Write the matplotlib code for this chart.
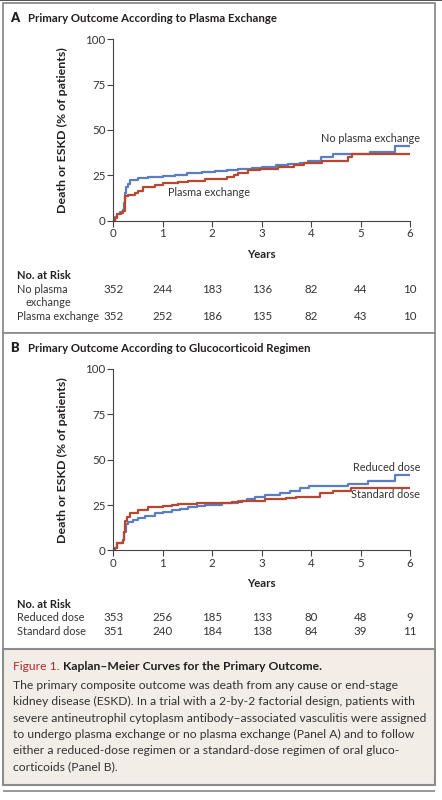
import matplotlib
matplotlib.use("Agg")
import matplotlib.pyplot as plt
import matplotlib.transforms as mtransforms
from matplotlib.patches import Rectangle

plt.rcParams['font.family'] = ['Lato', 'DejaVu Sans']

# ---- data ----
years = [0, 1, 2, 3, 4, 5, 6]
yticks = [0, 25, 50, 75, 100]

# panel A: no plasma exchange (blue), plasma exchange (red)
a_blue_t = [0, 0.03, 0.08, 0.14, 0.2, 0.22, 0.24, 0.26, 0.3, 0.34, 0.5, 0.7, 1.0, 1.25, 1.5,
            1.8, 2.06, 2.3, 2.53, 2.8, 3.0, 3.3, 3.54, 3.78, 3.94, 4.21, 4.44, 5.19, 5.70, 6.0]
a_blue_v = [0, 2, 3.7, 4.6, 5.9, 10, 15, 18.7, 20.5, 22.4, 23.4, 24, 24.6, 25.3, 26.1,
            26.8, 27.4, 28, 28.7, 29.3, 29.8, 30.9, 31.4, 32, 33, 35, 36.5, 37.8, 41.2, 41.2]
a_red_t = [0, 0.03, 0.08, 0.15, 0.2, 0.24, 0.3, 0.43, 0.5, 0.6, 0.84, 1.01, 1.3, 1.52, 1.86,
           2.3, 2.45, 2.53, 2.73, 2.97, 3.34, 3.65, 3.85, 4.22, 4.75, 4.83, 6.0]
a_red_v = [0, 1.5, 3.5, 4.5, 5.5, 13.6, 14.3, 15.1, 16.5, 18.7, 19.7, 20.6, 21.3, 22.1, 23.0,
           23.9, 25.0, 26.5, 27.9, 28.3, 29.6, 30.5, 31.6, 32.7, 35.3, 36.6, 36.6]

# panel B: reduced dose (blue), standard dose (red)
b_blue_t = [0, 0.03, 0.08, 0.2, 0.22, 0.26, 0.3, 0.4, 0.5, 0.65, 0.84, 1.0, 1.18, 1.35, 1.52,
            1.7, 1.86, 2.2, 2.53, 2.7, 2.87, 3.07, 3.37, 3.57, 3.78, 3.95, 4.75, 5.15, 5.70, 6.0]
b_blue_v = [0, 1.5, 3.9, 5.7, 10, 14.5, 15.8, 16.8, 17.6, 19.0, 20.4, 21.3, 22.2, 22.9, 23.7,
            24.4, 25, 25.9, 27.4, 28.3, 29.2, 30.5, 31.7, 32.5, 34.4, 35.3, 36.5, 38.0, 41.8, 41.8]
b_red_t = [0, 0.03, 0.08, 0.2, 0.22, 0.24, 0.28, 0.34, 0.5, 0.7, 1.0, 1.18, 1.3, 1.7, 2.2,
           2.4, 2.6, 3.07, 3.5, 3.7, 4.18, 4.45, 4.8, 6.0]
b_red_v = [0, 1.5, 3.9, 5.7, 10, 16, 18.5, 20.4, 22.2, 23.7, 24.4, 25.0, 25.5, 26.0, 26.3,
           26.8, 27.3, 28.1, 29.0, 29.6, 31.4, 33.0, 34.6, 34.6]

risk_a_none = [352, 244, 183, 136, 82, 44, 10]
risk_a_plex = [352, 252, 186, 135, 82, 43, 10]
risk_b_reduced = [353, 256, 185, 133, 80, 48, 9]
risk_b_standard = [351, 240, 184, 138, 84, 39, 11]

BLUE = '#5b7ec2'
RED = '#b9462f'
INK = '#231f20'
FS = 7.8
FS_NUM = 8.3

W, H = 442, 800
fig = plt.figure(figsize=(W / 100, H / 100), dpi=100)


def fx(x):
    return x / W


def fy(y):
    return 1 - y / H


def text(x, y, s, **kw):
    kw.setdefault('fontsize', FS)
    kw.setdefault('color', INK)
    kw.setdefault('va', 'center')
    return fig.text(fx(x), fy(y), s, **kw)


def box(x0, y0, x1, y1, **kw):
    fig.patches.append(Rectangle((fx(x0), fy(y1)), fx(x1 - x0), (y1 - y0) / H,
                                 transform=fig.transFigure, zorder=-5, **kw))


# frames
box(0, 0, W, 1.2, facecolor='#555555', edgecolor='none')
box(2.5, 3, 434.5, 333, facecolor='white', edgecolor='#8c8c8c', lw=1.3)
box(2.5, 333, 434.5, 649, facecolor='white', edgecolor='#8c8c8c', lw=1.3)
box(2.5, 649, 434.5, 785, facecolor='#f2ede7', edgecolor='#8c8c8c', lw=1.5)
box(2.5, 790, 434.5, 791.6, facecolor='#9a9a9a', edgecolor='none')


def panel(top, letter, title, blue, red, lab_blue, lab_red, risk, row_names, row_ys):
    bottom = top + 181.4
    ax = fig.add_axes([fx(113.3), fy(bottom), fx(410 - 113.3), (bottom - top) / H])
    ax.step(blue[0], blue[1], where='post', color=BLUE, lw=1.6)
    ax.step(red[0], red[1], where='post', color=RED, lw=1.6)
    ax.set_xlim(0, 6)
    ax.set_ylim(0, 100)
    ax.set_xticks(years)
    ax.set_yticks(yticks)
    for s in ['top', 'right']:
        ax.spines[s].set_visible(False)
    for s in ['left', 'bottom']:
        ax.spines[s].set_color('#444444')
        ax.spines[s].set_linewidth(0.8)
    ax.tick_params(direction='out', length=4, width=0.8, color='#444444',
                   labelsize=FS_NUM, labelcolor='#333333', pad=1.5)
    ax.set_ylabel('Death or ESKD (% of patients)', fontsize=8.9, fontweight='bold', color=INK)
    ax.yaxis.set_label_coords((68 - 113.3) / 296.7, 0.5)
    ax.set_facecolor('none')

    text(10, top - 21, letter, fontsize=9.4, fontweight='heavy')
    text(28, top - 21, title, fontsize=8.2, fontweight='bold')
    text(261.7, bottom + 33.5, 'Years', fontweight='bold', ha='center', fontsize=8.2)

    for lab in lab_blue + lab_red:
        text(lab[0], lab[1], lab[2], ha=lab[3], color='#333333')

    text(17, bottom + 54.5, 'No. at Risk', fontweight='bold', fontsize=8.0)
    tr = mtransforms.blended_transform_factory(ax.transData, fig.transFigure)
    for vals, name, yy in zip(risk, row_names, row_ys):
        for i, name_line in enumerate(name):
            text(17 + (8 if i else 0), bottom + yy + i * 13.7, name_line, color='#333333')
        for xv, n in zip(years, vals):
            ax.text(xv, fy(bottom + yy), str(n), transform=tr, ha='center', va='center',
                    fontsize=FS_NUM, color='#333333')
    return ax


panel(39.3, 'A', 'Primary Outcome According to Plasma Exchange',
      (a_blue_t, a_blue_v), (a_red_t, a_red_v),
      [(420, 138, 'No plasma exchange', 'right')],
      [(168, 193, 'Plasma exchange', 'left')],
      [risk_a_none, risk_a_plex],
      [['No plasma', 'exchange'], ['Plasma exchange']], [68.3, 95.3])

panel(369, 'B', 'Primary Outcome According to Glucocorticoid Regimen',
      (b_blue_t, b_blue_v), (b_red_t, b_red_v),
      [(420, 467.7, 'Reduced dose', 'right')],
      [(420, 495, 'Standard dose', 'right')],
      [risk_b_reduced, risk_b_standard],
      [['Reduced dose'], ['Standard dose']], [67.4, 80.7])

# caption
fs_cap = 8.7
t1 = text(13.3, 666.7, 'Figure 1.', fontsize=fs_cap, color='#b5282e')
fig.canvas.draw()
bb = t1.get_window_extent(fig.canvas.get_renderer())
text(bb.x1 + 3.5, 666.7, 'Kaplan\u2013Meier Curves for the Primary Outcome.',
     fontsize=fs_cap, fontweight='bold')
cap_lines = [
    'The primary composite outcome was death from any cause or end-stage',
    'kidney disease (ESKD). In a trial with a 2-by-2 factorial design, patients with',
    'severe antineutrophil cytoplasm antibody\u2013associated vasculitis were assigned',
    'to undergo plasma exchange or no plasma exchange (Panel A) and to follow',
    'either a reduced-dose regimen or a standard-dose regimen of oral gluco-',
    'corticoids (Panel B).',
]
for i, line in enumerate(cap_lines):
    text(13.3, 685.7 + i * 16.2, line, fontsize=fs_cap, color='#333333')

fig.savefig('out.png', dpi=100)
